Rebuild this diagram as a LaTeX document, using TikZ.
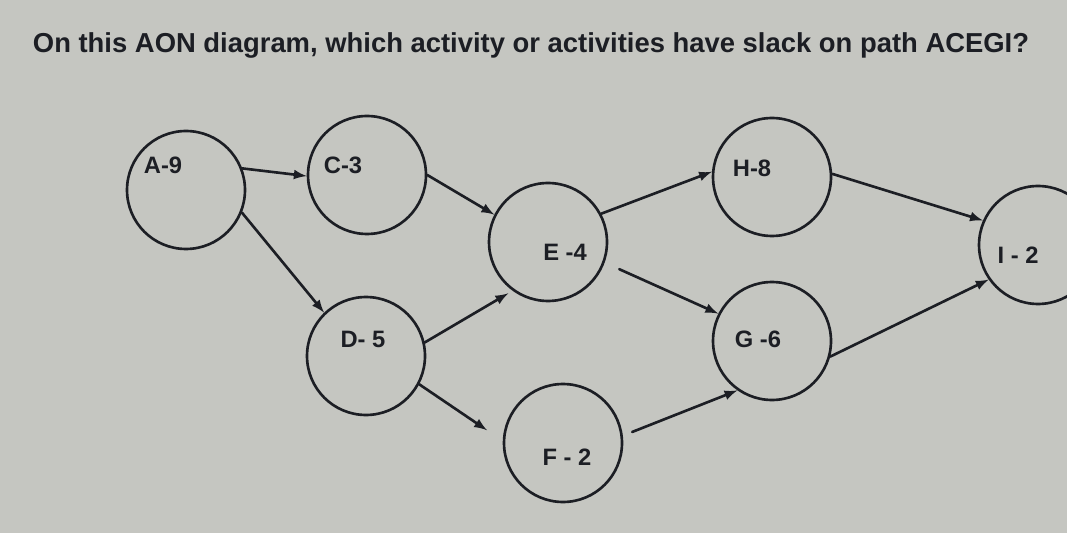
\documentclass[tikz,border=0pt]{standalone}
\usepackage{fontspec}
\setmainfont{Liberation Sans}
\usetikzlibrary{%
  arrows,%
  positioning%
}
\definecolor{screen}{RGB}{197,198,193}
\definecolor{ink}{RGB}{28,30,36}

\begin{document}
\begin{tikzpicture}[
    x=0.02cm,y=-0.02cm,
    >=latex,line join=round,line cap=round,
    activity/.style={circle,draw=ink,line width=1.5pt,minimum size=2.36cm,inner sep=0pt},
    tag/.style={font=\bfseries\fontsize{13.5}{15}\selectfont,text=ink},
    link/.style={->,draw=ink,line width=1.5pt}
  ]

    \fill[screen] (0,0) rectangle (1067,533);
    \clip (0,0) rectangle (1067,533);

    \node[font=\bfseries\fontsize{15.6}{18}\selectfont,text=ink] (question) at (531,45)
        {On this AON diagram, which activity or activities have slack on path ACEGI?};

    % activities
    \node[activity,label={[tag,xshift=-0.46cm,yshift=0.50cm]center:A-9}] (A) at (186,190) {};
    \node[activity,label={[tag,xshift=-0.48cm,yshift=0.20cm]center:C-3}] (C) at (367,175) {};
    \node[activity,label={[tag,xshift=-0.06cm,yshift=0.34cm]center:D- 5}] (D) at (366,356) {};
    \node[activity,label={[tag,xshift=0.34cm,yshift=-0.20cm]center:E -4}] (E) at (548,242) {};
    \node[activity,label={[tag,xshift=0.08cm,yshift=-0.28cm]center:F - 2}] (F) at (563,443) {};
    \node[activity,label={[tag,xshift=-0.40cm,yshift=0.18cm]center:H-8}] (H) at (772,177) {};
    \node[activity,label={[tag,xshift=-0.28cm,yshift=0.04cm]center:G -6}] (G) at (772,341) {};
    \node[activity,label={[tag,xshift=-0.40cm,yshift=-0.20cm]center:I - 2}] (I) at (1038,245) {};

    % precedence
    \draw[link] (A.21) -- (C.181);
    \draw[link] (A.-22) -- (D.134);
    \draw[link] (C.0) -- (E.153);
    \draw[link,shorten >=0.1cm] (D.13) -- (E.234);
    \draw[link,shorten >=0.38cm] (D.-28) -- (F.178);
    \draw[link] (E.28) -- (H.175);
    \draw[link,shorten <=0.32cm] (E.-20) -- (G.153);
    \draw[link,shorten <=0.2cm] (F.7) -- (G.235);
    \draw[link] (H.3) -- (I.156);
    \draw[link] (G.-15) -- (I.215);
\end{tikzpicture}
\end{document}
